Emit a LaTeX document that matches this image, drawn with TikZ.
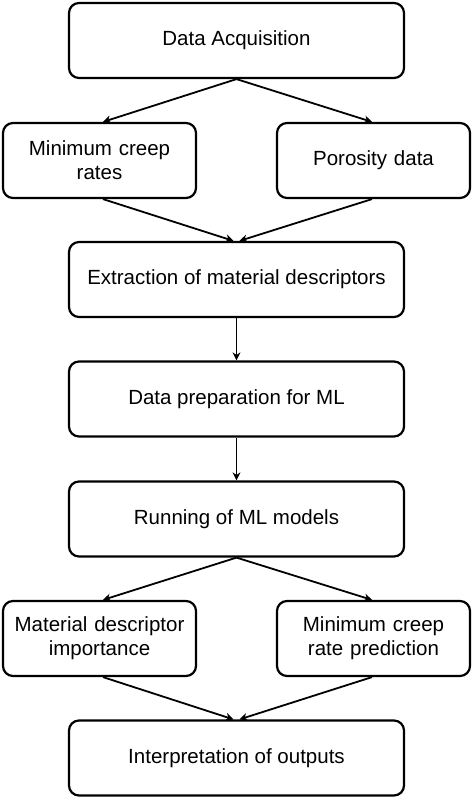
\documentclass[tikz,border=0pt]{standalone}
\usepackage{fontspec}
\setmainfont{Liberation Sans}
\usetikzlibrary{arrows.meta,calc}
\begin{document}
\begin{tikzpicture}[x=1pt,y=-1pt,
  box/.style={draw=black, line width=2.2pt, rounded corners=10pt, fill=white,
    align=center, font=\fontsize{20.5}{24}\selectfont, inner sep=0pt},
  wide/.style={box, minimum width=335pt, minimum height=75pt},
  half/.style={box, minimum width=193pt, minimum height=75pt, text width=190pt},
  arr/.style={line width=1.8pt, -{Stealth[length=8pt,width=8pt,inset=2.5pt]}}]
\useasboundingbox (0,0) rectangle (474,800);
\node[wide] (da)   at (236.5,40.5)  {Data Acquisition};
\node[half] (mcr)  at (99.5,160.5)  {Minimum creep\\rates};
\node[half] (por)  at (373.5,160.5) {Porosity data};
\node[wide] (ext)  at (236.5,279.5) {Extraction of material descriptors};
\node[wide] (prep) at (236.5,399)   {Data preparation for ML};
\node[wide] (run)  at (236.5,519)   {Running of ML models};
\node[half] (mdi)  at (99.5,638.5)  {Material descriptor\\importance};
\node[half] (mcrp) at (373.5,638.5) {Minimum creep\\rate prediction};
\node[wide] (int)  at (236.5,758)   {Interpretation of outputs};
\draw[arr] (da.south) -- ($(mcr.north)+(3.5,0)$);
\draw[arr] (da.south) -- ($(por.north)+(-1.5,0)$);
\draw[arr] ($(mcr.south)+(3.5,0)$) -- ($(ext.north)+(-3,0)$);
\draw[arr] ($(por.south)+(-1.5,0)$) -- ($(ext.north)+(3,0)$);
\draw[arr] (ext) -- (prep);
\draw[arr] (prep) -- (run);
\draw[arr] (run.south) -- ($(mdi.north)+(3.5,0)$);
\draw[arr] (run.south) -- ($(mcrp.north)+(-1.5,0)$);
\draw[arr] ($(mdi.south)+(3.5,0)$) -- ($(int.north)+(-3,0)$);
\draw[arr] ($(mcrp.south)+(-1.5,0)$) -- ($(int.north)+(3,0)$);
\end{tikzpicture}
\end{document}
